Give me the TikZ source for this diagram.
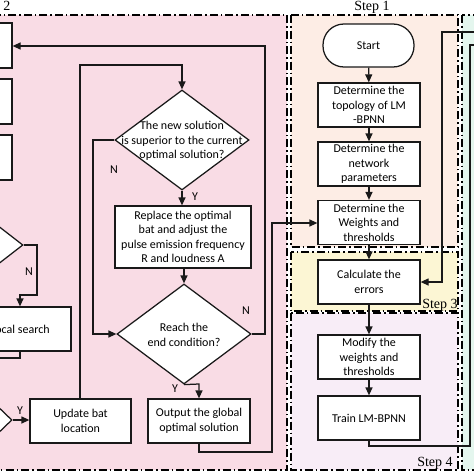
\documentclass[tikz,border=0pt]{standalone}
\usepackage{fontspec}
\setmainfont{Carlito}
\newfontfamily\stepfont{Liberation Serif}
\usetikzlibrary{arrows.meta,shapes.geometric}
\definecolor{pinkbg}{RGB}{249,220,229}
\definecolor{peachbg}{RGB}{253,237,229}
\definecolor{yellowbg}{RGB}{252,246,212}
\definecolor{lavbg}{RGB}{248,237,247}
\definecolor{greenbg}{RGB}{228,246,238}
\definecolor{ink}{RGB}{25,25,25}
\begin{document}
\begin{tikzpicture}[x=1pt,y=-1pt,
  box/.style={draw=ink,fill=white,line width=1.25pt,inner sep=0pt,align=center,
    font=\fontsize{12}{14.5}\selectfont,minimum width=102pt,minimum height=44pt},
  dia/.style={diamond,draw=ink,fill=white,line width=1.25pt,inner sep=0pt,
    minimum width=134pt,minimum height=100pt},
  txt/.style={align=center,font=\fontsize{12}{14.5}\selectfont,inner sep=0pt},
  conn/.style={draw=ink,line width=1.25pt},
  arr/.style={conn,-{Triangle[length=8pt,width=7pt]}},
  region/.style={draw=black,line width=1.5pt,dash pattern=on 8pt off 3pt on 1.5pt off 3pt},
  steplab/.style={font=\stepfont\fontsize{14}{14}\selectfont,inner sep=0pt},
  yn/.style={font=\fontsize{12}{12}\selectfont,inner sep=0pt}
]
\useasboundingbox (0,0) rectangle (474,474);
\clip (0,0) rectangle (474,474);
\fill[white] (0,0) rectangle (474,474);
% regions
\fill[pinkbg] (-20,15) rectangle (287,470);
\fill[peachbg] (291,15) rectangle (458,247);
\fill[yellowbg] (291,252) rectangle (458,311);
\fill[lavbg] (291,313) rectangle (458,470);
\fill[greenbg] (462,15) rectangle (520,470);
\draw[region] (-20,15) rectangle (287,470);
\draw[region] (291,15) rectangle (458,247);
\draw[region] (291,252) rectangle (458,311);
\draw[region] (291,313) rectangle (458,470);
\draw[region] (462,15) rectangle (520,470);
\node[steplab,anchor=east] (s2) at (10.5,7) {Step 2};
\node[steplab] (s1) at (372,7) {Step 1};
\node[steplab] (s3) at (440,305) {Step 3};
\node[steplab] (s4) at (435,463) {Step 4};
% left cut-off boxes
\node[box,minimum width=102pt,minimum height=45pt] (b1) at (-39,45.5) {};
\node[box,minimum width=102pt,minimum height=45pt] (b2) at (-39,101.5) {};
\node[box,minimum width=102pt,minimum height=45pt] (b3) at (-39,157.5) {};
\node[dia,minimum height=104pt] (l1) at (-44,245) {};
\node[box] (loc) at (20,329) {Local search};
\node[dia,minimum width=120pt,minimum height=116pt] (l2) at (-48,420) {};
\node[box,minimum width=101pt] (upd) at (80.5,421) {Update bat\\location};
% middle column
\node[dia] (d1) at (182,140) {};
\node[txt] (d1t) at (182,141) {The new solution\\is superior to the current\\optimal solution?};
\node[box,minimum width=136pt,minimum height=62pt] (rep) at (183,237) {Replace the optimal\\bat and adjust the\\pulse emission frequency\\R and loudness A};
\node[dia] (d2) at (184,334) {};
\node[txt] (d2t) at (184,335) {Reach the\\end condition?};
\node[box] (out) at (199,421) {Output the global\\optimal solution};
% right column
\node[box,minimum width=91pt,minimum height=43pt,rounded corners=21pt] (st) at (368.5,45.5) {Start};
\node[box] (top) at (369,105) {Determine the\\topology of LM\\-BPNN};
\node[box] (net) at (369,164) {Determine the\\network\\parameters};
\node[box] (wt) at (369,222.5) {Determine the\\Weights and\\thresholds};
\node[box] (err) at (369,282) {Calculate the\\errors};
\node[box] (mod) at (369,357) {Modify the\\weights and\\thresholds};
\node[box] (trn) at (369,418) {Train LM-BPNN};
% off-image coordinates
\coordinate (offA) at (520,32);
\coordinate (offB) at (520,45);
\coordinate (offC) at (-40,358);
% connectors right column
\draw[arr] (st) -- (top);
\draw[arr] (top) -- (net);
\draw[arr] (net) -- (wt);
\draw[arr] (wt) -- (err);
\draw[arr] (err) -- (mod);
\draw[arr] (mod) -- (trn);
\draw[conn] (trn.south) -- (369,446) -- (470,446) -- (470,45) -- (offB);
\draw[arr] (offA) -- (442,32) -- (442,282) -- (err.east);
% connectors middle
\draw[arr] (d2.east) -- (265,334) -- (265,46) -- (b1.east |- 0,46);
\draw[arr] (upd.north -| 80,0) -- (80,65) -- (182,65) -- (d1.north);
\draw[arr] (d1.west) -- (93,140) -- (93,334) -- (d2.west);
\draw[arr] (d1.south) -- (rep.north -| d1.south);
\draw[arr] (rep.south -| d2.north) -- (d2.north);
\draw[arr] (d2.south) -- (199,384) -- (out.north);
\draw[arr] (out.south) -- (199,452) -- (272,452) -- (272,223) -- (wt.west |- 0,223);
% connectors left
\draw[arr] (l1.east) -- (37,245) -- (37,295) -- (20,295) -- (loc.north);
\draw[conn] (loc.south) -- (20,358) -- (offC);
\draw[arr] (l2.east) -- (upd.west |- l2.east);
% Y/N labels
\node[yn] (n1) at (114,170) {N};
\node[yn] (y1) at (195,197) {Y};
\node[yn] (n2) at (246,311) {N};
\node[yn] (y2) at (175,389) {Y};
\node[yn] (n3) at (29,272) {N};
\node[yn] (y3) at (20,411) {Y};
\end{tikzpicture}
\end{document}
